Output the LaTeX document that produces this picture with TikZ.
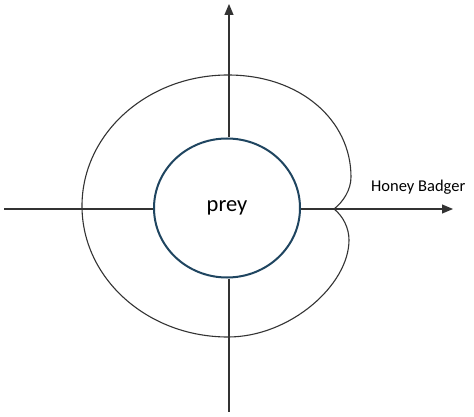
\documentclass[tikz,border=0pt]{standalone}
\usepackage{fontspec}
\setmainfont{Carlito}
\usetikzlibrary{arrows.meta,shapes.geometric}
\definecolor{axisgray}{HTML}{333333}
\definecolor{ringblue}{HTML}{1F4560}
\tikzset{
  axis/.style={draw=axisgray, line width=1.1pt},
  arrowaxis/.style={axis, -{Triangle[length=11pt,width=9pt]}},
  preynode/.style={ellipse, draw=ringblue, line width=2pt, minimum width=146pt, minimum height=139pt, inner sep=0pt, font=\fontsize{22.5}{26}\selectfont},
  lbl/.style={font=\fontsize{16.5}{20}\selectfont, text=black, inner sep=0pt}
}
\begin{document}
\begin{tikzpicture}[x=1pt,y=-1pt]
\useasboundingbox (0,0) rectangle (474,417);
\fill[white] (0,0) rectangle (474,417);
% outer ring
\draw[axis] (228,75) .. controls (147.4,75) and (82,133.6) .. (82,206)
  .. controls (82,278.4) and (147.4,337) .. (228,337)
  .. controls (290,337) and (349,285) .. (349,240)
  .. controls (349,228) and (343,216) .. (334,209)
  .. controls (343,202) and (351,190) .. (351,177)
  .. controls (351,120) and (300,75) .. (228,75) -- cycle;
% inner node
\node[preynode] (prey) at (227,208) {prey};
\coordinate (top) at (229,4);
\coordinate (bot) at (229,412);
\coordinate (lft) at (4,209);
\coordinate (rgt) at (453,209);
\draw[arrowaxis] (prey.north -| top) -- (top);
\draw[axis] (prey.south -| bot) -- (bot);
\draw[axis] (prey.west |- lft) -- (lft);
\draw[arrowaxis] (prey.east |- rgt) -- (rgt);
\node[lbl, anchor=west] (hb) at (371,187) {Honey Badger};
\end{tikzpicture}
\end{document}
